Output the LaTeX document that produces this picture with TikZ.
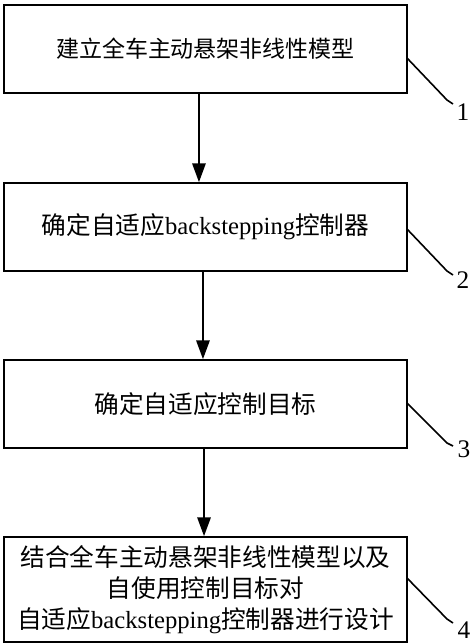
\documentclass[tikz,border=0pt]{standalone}
\usepackage{fontspec}
\setmainfont{Liberation Serif}
\newfontfamily\cjk{Noto Sans CJK SC}
\usetikzlibrary{arrows.meta}
\begin{document}
\begin{tikzpicture}[x=0.75pt,y=-0.75pt,
  box/.style={draw=black, line width=1.3pt, minimum width=302.25pt, minimum height=66pt, inner sep=0pt, align=center, font=\fontsize{18.5pt}{23pt}\selectfont},
  arr/.style={draw=black, line width=1.3pt, -{Triangle[length=14pt,width=10pt]}},
  lead/.style={draw=black, line width=1.2pt},
  lab/.style={inner sep=0pt, font=\fontsize{19pt}{22pt}\selectfont}]
\useasboundingbox (0,0) rectangle (474,644);
\fill[white] (0,0) rectangle (474,644);
\node[box, font=\fontsize{17.25pt}{22pt}\selectfont] (b1) at (205.5,49) {\cjk 建立全车主动悬架非线性模型};
\node[box] (b2) at (205.5,227) {{\cjk 确定自适应}backstepping{\cjk 控制器}};
\node[box] (b3) at (205.5,404) {\cjk 确定自适应控制目标};
\node[box, minimum height=78.75pt] (b4) at (205.5,589.5) {{\cjk 结合全车主动悬架非线性模型以及}\\{\cjk 自使用控制目标对}\\{\cjk 自适应}backstepping{\cjk 控制器进行设计}};
\draw[arr] ([xshift=-4.9pt]b1.south) -- ([xshift=-4.9pt]b2.north);
\draw[arr] ([xshift=-1.9pt]b2.south) -- ([xshift=-1.9pt]b3.north);
\draw[arr] ([xshift=-1.1pt]b3.south) -- ([xshift=-1.1pt]b4.north);
\node[lab] (n1) at (463,112) {1};
\node[lab] (n2) at (463,280) {2};
\node[lab] (n3) at (464,449) {3};
\node[lab] (n4) at (464,630) {4};
\coordinate (s1) at (407,58);  \coordinate (k1) at (447,100); \coordinate (e1) at (453,104);
\coordinate (s2) at (407,229); \coordinate (k2) at (447,271); \coordinate (e2) at (453,275);
\coordinate (s3) at (407,403); \coordinate (k3) at (447,443); \coordinate (e3) at (453,446);
\coordinate (s4) at (407,578); \coordinate (k4) at (447,619); \coordinate (e4) at (453,623);
\draw[lead] (s1) -- (k1) -- (e1);
\draw[lead] (s2) -- (k2) -- (e2);
\draw[lead] (s3) -- (k3) -- (e3);
\draw[lead] (s4) -- (k4) -- (e4);
\end{tikzpicture}
\end{document}
